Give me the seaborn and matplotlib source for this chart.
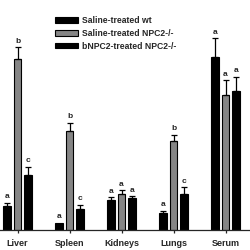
import numpy as np
import pandas as pd
import matplotlib
matplotlib.use("Agg")
import matplotlib.pyplot as plt
import seaborn as sns
from matplotlib.patches import Patch

tissues = ["Liver", "Spleen", "Kidneys", "Lungs", "Serum"]
groups = ["Saline-treated wt", "Saline-treated NPC2-/-", "bNPC2-treated NPC2-/-"]
wt = [24, 7.3, 30, 16.7, 173]
npc2 = [171, 99, 35.7, 89, 135]
bnpc2 = [55, 21, 32.3, 36, 139]
wt_err = [3, 0, 2.7, 2.6, 19]
npc2_err = [11.7, 8, 4, 6, 15]
bnpc2_err = [8.3, 4.3, 1.7, 6.7, 14.3]
wt_sig = ["a", "a", "a", "a", "a"]
npc2_sig = ["b", "b", "a", "b", "a"]
bnpc2_sig = ["c", "c", "a", "c", "a"]

sns.set_style("white")
plt.rcParams['font.family'] = ['Liberation Sans', 'DejaVu Sans']
plt.rcParams['font.weight'] = 'bold'

rows = []
for g, vals in zip(groups, [wt, npc2, bnpc2]):
    for t, v in zip(tissues, vals):
        rows.append({"tissue": t, "group": g, "value": v})
df = pd.DataFrame(rows)

colors = ["#000000", "#858585", "#000000"]

fig = plt.figure(figsize=(2.5, 2.5), dpi=100)
ax = fig.add_axes([0, 0.08, 1, 0.92])
sns.barplot(data=df, x="tissue", y="value", hue="group", order=tissues,
            hue_order=groups, palette=colors, width=0.6, gap=0.29,
            edgecolor="black", linewidth=0.8, errorbar=None, legend=False, ax=ax)

errs = [wt_err, npc2_err, bnpc2_err]
sigs = [wt_sig, npc2_sig, bnpc2_sig]
vals_all = [wt, npc2, bnpc2]
bar_conts = list(ax.containers)[:3]
for gi, cont in enumerate(bar_conts):
    for ti, bar in enumerate(cont.patches):
        x = bar.get_x() + bar.get_width() / 2
        h = vals_all[gi][ti]
        e = errs[gi][ti]
        if e > 0:
            ax.errorbar([x], [h], yerr=[[0], [e]], fmt="none", ecolor="black",
                        elinewidth=0.9, capsize=2.2, capthick=0.9)
        ax.text(x, h + e + 2.5, sigs[gi][ti], ha="center", va="bottom",
                fontsize=6, fontweight="bold")

ax.set_xlim(-0.337, 4.471)
ax.set_ylim(0, 230)
ax.set_xlabel("")
ax.set_ylabel("")
ax.set_yticks([])
for s in ["top", "right", "left"]:
    ax.spines[s].set_visible(False)
ax.spines["bottom"].set_linewidth(0.9)
ax.tick_params(axis="x", length=2.5, width=0.9, pad=4, labelsize=6.5, direction="out", bottom=True)
for lbl in ax.get_xticklabels():
    lbl.set_fontweight("bold")

handles = [Patch(facecolor=c, edgecolor="black", linewidth=0.8) for c in colors]
fig.legend(handles, groups, loc="upper left", bbox_to_anchor=(55 / 250, 1 - 16 / 250),
           frameon=False, handlelength=2.65, handleheight=0.6,
           handletextpad=0.5, labelspacing=0.45, borderpad=0, borderaxespad=0,
           prop={"weight": "bold", "size": 6.2})

fig.savefig("out.png", dpi=100)
